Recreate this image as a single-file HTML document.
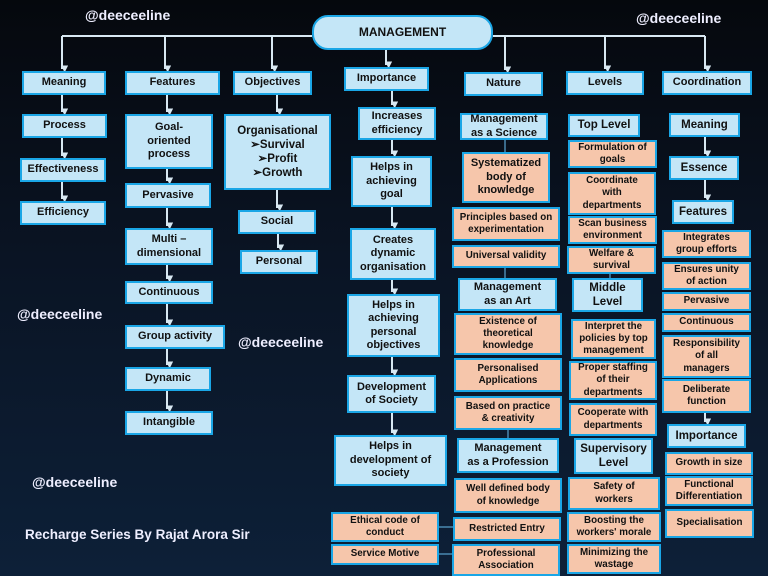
<!DOCTYPE html>
<html><head><meta charset="utf-8"><style>
*{margin:0;padding:0;box-sizing:border-box}
body{width:768px;height:576px;overflow:hidden;position:relative;background:linear-gradient(180deg,#05080d 0%,#0a1424 45%,#0d2038 100%);font-family:"Liberation Sans",sans-serif}
.b,.p{position:absolute;display:flex;align-items:center;justify-content:center;text-align:center;font-weight:bold;color:#111;border:2px solid #1aa6e6;line-height:1.22;font-size:11px}
.b{background:#c4e6f7}
.p{background:#f6c6ab;font-size:9.8px;line-height:1.25}
.w{position:absolute;color:#eef;font-weight:bold;font-size:14px}
svg{position:absolute;left:0;top:0}
</style></head><body>
<svg width="768" height="576">
<defs><marker id="d" viewBox="0 0 8 8" markerWidth="7" markerHeight="7" refX="4" refY="7" orient="auto" markerUnits="userSpaceOnUse"><path d="M0,0 L8,4 L0,8 z" fill="#d8e8f2"/></marker></defs>
<g stroke="#d8e8f2" stroke-width="2" fill="none">
<path d="M62,36 H312 M493,36 H705"/>
</g>
<g stroke="#d8e8f2" stroke-width="2" marker-end="url(#d)">
<line x1="62" y1="36" x2="62" y2="69"/><line x1="165" y1="36" x2="165" y2="69"/><line x1="272" y1="36" x2="272" y2="69"/><line x1="386" y1="50" x2="386" y2="65"/><line x1="505" y1="36" x2="505" y2="70"/><line x1="605" y1="36" x2="605" y2="69"/><line x1="705" y1="36" x2="705" y2="69"/>
<line x1="62" y1="95" x2="62" y2="112"/><line x1="62" y1="138" x2="62" y2="156"/><line x1="62" y1="182" x2="62" y2="199"/>
<line x1="167" y1="95" x2="167" y2="112"/><line x1="167" y1="169" x2="167" y2="181"/><line x1="167" y1="208" x2="167" y2="226"/><line x1="167" y1="265" x2="167" y2="279"/><line x1="167" y1="304" x2="167" y2="323"/><line x1="167" y1="349" x2="167" y2="365"/><line x1="167" y1="391" x2="167" y2="409"/>
<line x1="277" y1="95" x2="277" y2="112"/><line x1="277" y1="190" x2="277" y2="208"/><line x1="278" y1="234" x2="278" y2="248"/>
<line x1="392" y1="91" x2="392" y2="105"/><line x1="392" y1="140" x2="392" y2="154"/><line x1="392" y1="207" x2="392" y2="226"/><line x1="392" y1="280" x2="392" y2="292"/><line x1="392" y1="357" x2="392" y2="373"/><line x1="392" y1="413" x2="392" y2="433"/>
<line x1="705" y1="137" x2="705" y2="154"/><line x1="705" y1="180" x2="705" y2="198"/><line x1="705" y1="413" x2="705" y2="422"/>
</g>
<path d="M505,140 V152 M505,268 V278 M508,430 V438 M610,274 V278 M439,527 H453 M439,554 H452" stroke-width="1.5" stroke="#4a88b0" fill="none"/>
</svg>
<div class="w" style="left:85px;top:7px">@deeceeline</div>
<div class="w" style="left:636px;top:10px">@deeceeline</div>
<div class="w" style="left:17px;top:306px">@deeceeline</div>
<div class="w" style="left:238px;top:334px">@deeceeline</div>
<div class="w" style="left:32px;top:474px">@deeceeline</div>
<div class="w" style="left:25px;top:527px;font-size:13.5px">Recharge Series By Rajat Arora Sir</div>
<div class="b" style="left:312px;top:15px;width:181px;height:35px;border-radius:16px;font-size:12px">MANAGEMENT</div>
<div class="b" style="left:22px;top:71px;width:84px;height:24px">Meaning</div>
<div class="b" style="left:125px;top:71px;width:95px;height:24px">Features</div>
<div class="b" style="left:233px;top:71px;width:79px;height:24px">Objectives</div>
<div class="b" style="left:344px;top:67px;width:85px;height:24px">Importance</div>
<div class="b" style="left:464px;top:72px;width:79px;height:24px">Nature</div>
<div class="b" style="left:566px;top:71px;width:78px;height:24px">Levels</div>
<div class="b" style="left:662px;top:71px;width:90px;height:24px">Coordination</div>
<div class="b" style="left:22px;top:114px;width:85px;height:24px">Process</div>
<div class="b" style="left:20px;top:158px;width:86px;height:24px">Effectiveness</div>
<div class="b" style="left:20px;top:201px;width:86px;height:24px">Efficiency</div>
<div class="b" style="left:125px;top:114px;width:88px;height:55px">Goal-<br>oriented<br>process</div>
<div class="b" style="left:125px;top:183px;width:86px;height:25px">Pervasive</div>
<div class="b" style="left:125px;top:228px;width:88px;height:37px">Multi –<br>dimensional</div>
<div class="b" style="left:125px;top:281px;width:88px;height:23px">Continuous</div>
<div class="b" style="left:125px;top:325px;width:100px;height:24px">Group activity</div>
<div class="b" style="left:125px;top:367px;width:86px;height:24px">Dynamic</div>
<div class="b" style="left:125px;top:411px;width:88px;height:24px">Intangible</div>
<div class="b" style="left:224px;top:114px;width:107px;height:76px;font-size:11.5px">Organisational<br>➢Survival<br>➢Profit<br>➢Growth</div>
<div class="b" style="left:238px;top:210px;width:78px;height:24px">Social</div>
<div class="b" style="left:240px;top:250px;width:78px;height:24px">Personal</div>
<div class="b" style="left:358px;top:107px;width:78px;height:33px">Increases<br>efficiency</div>
<div class="b" style="left:351px;top:156px;width:81px;height:51px">Helps in<br>achieving<br>goal</div>
<div class="b" style="left:350px;top:228px;width:86px;height:52px">Creates<br>dynamic<br>organisation</div>
<div class="b" style="left:347px;top:294px;width:93px;height:63px">Helps in<br>achieving<br>personal<br>objectives</div>
<div class="b" style="left:347px;top:375px;width:89px;height:38px">Development<br>of Society</div>
<div class="b" style="left:334px;top:435px;width:113px;height:51px">Helps in<br>development of<br>society</div>
<div class="b" style="left:460px;top:113px;width:88px;height:27px">Management<br>as a Science</div>
<div class="p" style="left:462px;top:152px;width:88px;height:51px;font-size:11px">Systematized<br>body of<br>knowledge</div>
<div class="p" style="left:452px;top:207px;width:108px;height:34px">Principles based on<br>experimentation</div>
<div class="p" style="left:452px;top:245px;width:108px;height:23px">Universal validity</div>
<div class="b" style="left:458px;top:278px;width:99px;height:33px">Management<br>as an Art</div>
<div class="p" style="left:454px;top:313px;width:108px;height:42px">Existence of<br>theoretical<br>knowledge</div>
<div class="p" style="left:454px;top:358px;width:108px;height:34px">Personalised<br>Applications</div>
<div class="p" style="left:454px;top:396px;width:108px;height:34px">Based on practice<br>&amp; creativity</div>
<div class="b" style="left:457px;top:438px;width:102px;height:35px">Management<br>as a Profession</div>
<div class="p" style="left:454px;top:478px;width:108px;height:35px">Well defined body<br>of knowledge</div>
<div class="p" style="left:453px;top:517px;width:108px;height:24px">Restricted Entry</div>
<div class="p" style="left:452px;top:544px;width:108px;height:32px">Professional<br>Association</div>
<div class="p" style="left:331px;top:512px;width:108px;height:30px">Ethical code of<br>conduct</div>
<div class="p" style="left:331px;top:544px;width:108px;height:21px">Service Motive</div>
<div class="b" style="left:568px;top:114px;width:72px;height:23px;font-size:11.5px">Top Level</div>
<div class="p" style="left:568px;top:140px;width:89px;height:28px">Formulation of<br>goals</div>
<div class="p" style="left:568px;top:172px;width:88px;height:43px">Coordinate<br>with<br>departments</div>
<div class="p" style="left:568px;top:216px;width:89px;height:28px">Scan business<br>environment</div>
<div class="p" style="left:567px;top:246px;width:89px;height:28px">Welfare &amp;<br>survival</div>
<div class="b" style="left:572px;top:278px;width:71px;height:34px;font-size:11.5px">Middle<br>Level</div>
<div class="p" style="left:571px;top:319px;width:85px;height:40px">Interpret the<br>policies by top<br>management</div>
<div class="p" style="left:569px;top:361px;width:88px;height:39px">Proper staffing<br>of their<br>departments</div>
<div class="p" style="left:569px;top:403px;width:88px;height:33px">Cooperate with<br>departments</div>
<div class="b" style="left:574px;top:438px;width:79px;height:36px;font-size:11.5px">Supervisory<br>Level</div>
<div class="p" style="left:568px;top:477px;width:92px;height:33px">Safety of<br>workers</div>
<div class="p" style="left:567px;top:512px;width:94px;height:30px">Boosting the<br>workers' morale</div>
<div class="p" style="left:567px;top:544px;width:94px;height:30px">Minimizing the<br>wastage</div>
<div class="b" style="left:669px;top:113px;width:71px;height:24px;font-size:11.5px">Meaning</div>
<div class="b" style="left:669px;top:156px;width:70px;height:24px;font-size:11.5px">Essence</div>
<div class="b" style="left:672px;top:200px;width:62px;height:24px;font-size:11.5px">Features</div>
<div class="p" style="left:662px;top:230px;width:89px;height:28px">Integrates<br>group efforts</div>
<div class="p" style="left:662px;top:262px;width:89px;height:28px">Ensures unity<br>of action</div>
<div class="p" style="left:662px;top:292px;width:89px;height:19px">Pervasive</div>
<div class="p" style="left:662px;top:313px;width:89px;height:19px">Continuous</div>
<div class="p" style="left:662px;top:335px;width:89px;height:43px">Responsibility<br>of all<br>managers</div>
<div class="p" style="left:662px;top:379px;width:89px;height:34px">Deliberate<br>function</div>
<div class="b" style="left:667px;top:424px;width:79px;height:24px;font-size:11.5px">Importance</div>
<div class="p" style="left:665px;top:452px;width:88px;height:23px">Growth in size</div>
<div class="p" style="left:665px;top:476px;width:88px;height:30px">Functional<br>Differentiation</div>
<div class="p" style="left:665px;top:509px;width:89px;height:29px">Specialisation</div>
</body></html>
